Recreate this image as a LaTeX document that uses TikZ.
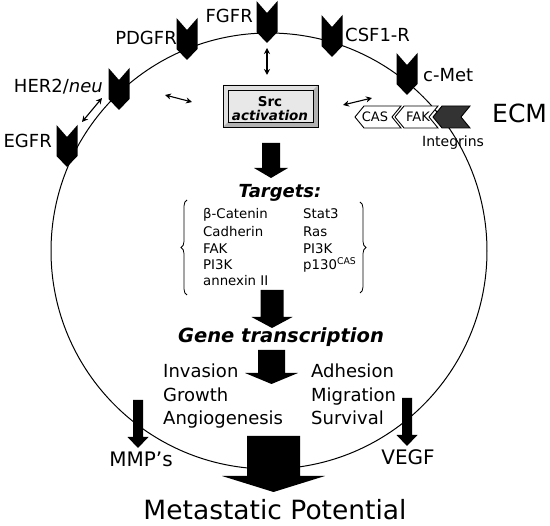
\documentclass[tikz,border=0pt]{standalone}
\usepackage{fontspec}
\setmainfont{DejaVu Sans}
\usetikzlibrary{arrows.meta,decorations.pathreplacing}
\newcommand{\fsz}[1]{\fontsize{#1}{#1}\selectfont}
% block arrow: cx, top, shaft half width, head start, head half width, tip
\newcommand{\blockarrow}[6]{%
  \fill ({#1-#3},#2) -- ({#1+#3},#2) -- ({#1+#3},#4) -- ({#1+#5},#4) -- (#1,#6)
        -- ({#1-#5},#4) -- ({#1-#3},#4) -- cycle;}
% chevron pointing left: tip x, width, fill
\newcommand{\chev}[3]{%
  \filldraw[fill=#3, line width=0.9pt, line join=miter] (#1,117) -- ({#1+9},106) -- ({#1+#2},106)
     -- ({#1+#2-9},117) -- ({#1+#2},128) -- ({#1+9},128) -- cycle;}
\begin{document}
\begin{tikzpicture}[x=1pt,y=-1pt,
  lbl/.style={inner sep=0pt, font=\fsz{18}},
  big/.style={inner sep=0pt, font=\fsz{20}},
  tgt/.style={inner sep=0pt, font=\fsz{13.3}, anchor=base west},
  res/.style={inner sep=0pt, font=\fsz{18}, anchor=base west},
  dbl/.style={{Stealth[length=6pt,width=6pt]}-{Stealth[length=6pt,width=6pt]}, line width=1.1pt},
  rcp/.pic={\fill (-10.5,0) -- (0,12) -- (10.5,0) -- (10.5,31) -- (0,42) -- (-10.5,31) -- cycle;}]
\useasboundingbox (0,0) rectangle (550,526);
\fill[white] (0,0) rectangle (550,526);

% cell membrane
\draw[line width=1pt] (269,251) circle[radius=218];

% receptors
\pic at (267,1) {rcp};
\pic at (187,18) {rcp};
\pic at (119,68) {rcp};
\pic at (67,125) {rcp};
\pic at (332,15) {rcp};
\pic at (407,53) {rcp};

% receptor labels
\node[lbl, anchor=base east] (fgfr) at (253,23) {FGFR};
\node[lbl, anchor=base east] (pdgfr) at (177,45) {PDGFR};
\node[lbl, anchor=base east] (her2) at (103,93) {HER2/\textit{neu}};
\node[lbl, anchor=base east] (egfr) at (52,148) {EGFR};
\node[lbl, anchor=base west] (csf) at (345,42) {CSF1-R};
\node[lbl, anchor=base west] (cmet) at (423,82) {c-Met};

% integrin complex
\chev{355}{46}{white}
\chev{395}{43}{white}
\chev{433}{37}{black!80}
\node[inner sep=0pt, font=\fsz{13}, anchor=base] (cas) at (375,122) {CAS};
\node[inner sep=0pt, font=\fsz{13}, anchor=base] (fak) at (418,122) {FAK};
\node[inner sep=0pt, font=\fsz{14}, anchor=base west] (integ) at (422,147) {Integrins};
\node[inner sep=0pt, font=\fsz{25}, anchor=base west] (ecm) at (492,123) {ECM};

% double arrows
\coordinate (a1) at (267,48); \coordinate (a2) at (267,75);
\coordinate (b1) at (82,122); \coordinate (b2) at (102,98);
\coordinate (c1) at (165,95); \coordinate (c2) at (192,102);
\coordinate (d1) at (343,105); \coordinate (d2) at (372,98);
\draw[dbl] (a1) -- (a2);
\draw[dbl] (b1) -- (b2);
\draw[dbl] (c1) -- (c2);
\draw[dbl] (d1) -- (d2);

% Src box
\fill[gray!60] (223,85) rectangle (318,127);
\fill[gray!25] (223,85) -- (318,85) -- (313,90) -- (228,90) -- (228,122) -- (223,127) -- cycle;
\draw[fill=gray!18, line width=0.7pt] (228,90) rectangle (313,122);
\node[draw, line width=0.8pt, minimum width=95pt, minimum height=42pt, inner sep=0pt] (srcbox) at (270.5,106) {};
\node[inner sep=0pt, font=\fsz{13.5}\bfseries, anchor=base] (srcA) at (270,107) {Src};
\node[inner sep=0pt, font=\fsz{13.5}\bfseries\itshape, anchor=base] (srcB) at (270,121) {activation};

% block arrows
\blockarrow{271}{143}{9}{168}{17}{178}
\blockarrow{272}{290}{11.5}{317}{20.5}{328}
\blockarrow{271.5}{350}{13.5}{373}{26.5}{384}
\blockarrow{273.5}{436}{26.5}{476}{51.5}{492}
\blockarrow{138}{400}{5}{437}{10.5}{448}
\blockarrow{407}{398}{5}{435}{10.5}{446}

% targets
\node[inner sep=0pt, font=\fsz{18}\bfseries\itshape, anchor=base] (targets) at (280,198) {Targets:};
\node[tgt] (t1) at (203,219) {β-Catenin};
\node[tgt] (t2) at (203,236.5) {Cadherin};
\node[tgt] (t3) at (203,253.5) {FAK};
\node[tgt] (t4) at (203,270) {PI3K};
\node[tgt] (t5) at (203,286) {annexin II};
\node[tgt] (t6) at (303,219) {Stat3};
\node[tgt] (t7) at (303,236.5) {Ras};
\node[tgt] (t8) at (303,253.5) {PI3K};
\node[tgt] (t9) at (303,270) {p130\textsuperscript{CAS}};
\draw[line width=0.8pt, decorate, decoration={brace, amplitude=6pt}] (187,295) -- (187,200);
\draw[line width=0.8pt, decorate, decoration={brace, amplitude=6pt}] (360,202) -- (360,293);

\node[inner sep=0pt, font=\fsz{19.5}\bfseries\itshape, anchor=base] (gene) at (281,343) {Gene transcription};

% outcomes
\node[res] (inv) at (163,378) {Invasion};
\node[res] (gro) at (163,402) {Growth};
\node[res] (ang) at (163,425) {Angiogenesis};
\node[res] (adh) at (311,378) {Adhesion};
\node[res] (mig) at (311,402) {Migration};
\node[res] (sur) at (311,425) {Survival};

\node[big, anchor=base] (mmp) at (141,467) {MMP’s};
\node[big, anchor=base] (vegf) at (408,465) {VEGF};

\node[inner sep=0pt, font=\fsz{26.5}, anchor=base] (meta) at (275,520) {Metastatic Potential};
\end{tikzpicture}
\end{document}
